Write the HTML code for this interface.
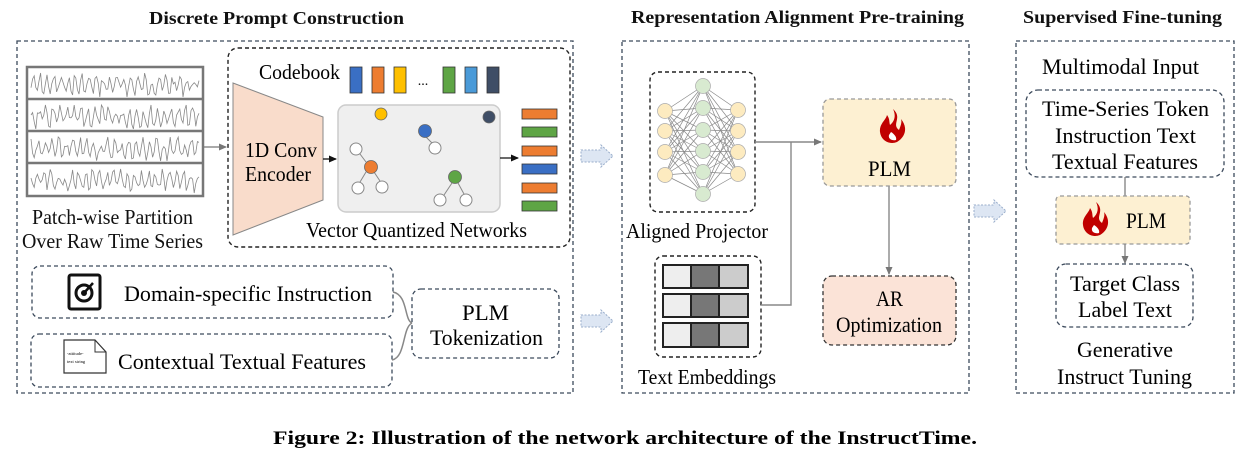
<!DOCTYPE html>
<html><head><meta charset="utf-8"><style>
html,body{margin:0;padding:0;background:#fff;}
svg{display:block;font-family:"Liberation Serif",serif;}
</style></head><body>
<svg id="s" width="1251" height="458" viewBox="0 0 1251 458" xmlns="http://www.w3.org/2000/svg">
<defs>
<marker id="ah" markerWidth="8" markerHeight="8" refX="7" refY="4" orient="auto" markerUnits="userSpaceOnUse"><path d="M0,0.5 L8,4 L0,7.5 Z" fill="#777"/></marker>
<marker id="ahk" markerWidth="8" markerHeight="8" refX="7" refY="4" orient="auto" markerUnits="userSpaceOnUse"><path d="M0,0.5 L8,4 L0,7.5 Z" fill="#111"/></marker>
<g id="flame"><path d="M0,-19 C10,-10 -2,-4 6,2 C8,-3 9,-6 8,-9 C14,-2 14,8 4,14 C-3,17 -12,13 -13,4 C-14,-4 -7,-8 -6,-13 C-3,-9 -4,-6 -3,-3 C2,-7 3,-13 0,-19 Z" fill="#c00000"/><path d="M-2,4 C1,6 4,9 3,12 C-1,13 -5,11 -4,7 Z" fill="#fff"/></g>
</defs>
<!-- titles -->
<g font-weight="bold" font-size="18" fill="#111" lengthAdjust="spacingAndGlyphs">
<text x="149" y="24" textLength="255" lengthAdjust="spacingAndGlyphs">Discrete Prompt Construction</text>
<text x="631" y="23" textLength="333" lengthAdjust="spacingAndGlyphs">Representation Alignment Pre-training</text>
<text x="1023" y="23" textLength="199" lengthAdjust="spacingAndGlyphs">Supervised Fine-tuning</text>
</g>
<!-- outer boxes -->
<g fill="none" stroke="#3c4a5c" stroke-width="1.3" stroke-dasharray="4,3">
<rect x="17" y="41" width="556" height="352"/>
<rect x="622" y="41" width="347" height="352"/>
<rect x="1016" y="41" width="218" height="352"/>
</g>
<!-- time series -->
<rect x="27" y="67" width="176" height="129" fill="#fff" stroke="#777" stroke-width="2.5"/>
<g stroke="#777" stroke-width="2.5"><line x1="27" y1="99" x2="203" y2="99"/><line x1="27" y1="131" x2="203" y2="131"/><line x1="27" y1="163" x2="203" y2="163"/></g>
<g id="waves" fill="none" stroke="#888" stroke-width="0.8"></g>
<line x1="203" y1="147" x2="226" y2="147" stroke="#777" stroke-width="1.3" marker-end="url(#ah)"/>
<g font-size="21" fill="#111">
<text x="32" y="224" textLength="161" lengthAdjust="spacingAndGlyphs">Patch-wise Partition</text>
<text x="22" y="248" textLength="181" lengthAdjust="spacingAndGlyphs">Over Raw Time Series</text>
</g>
<!-- VQ box -->
<rect x="228" y="48" width="342" height="199" rx="10" fill="none" stroke="#222" stroke-width="1.4" stroke-dasharray="4,3"/>
<polygon points="233,83 323,117 323,200 233,235" fill="#f9dccb" stroke="#888" stroke-width="1"/>
<g font-size="21">
<text x="245" y="157" textLength="72" lengthAdjust="spacingAndGlyphs">1D Conv</text>
<text x="245" y="181" textLength="66" lengthAdjust="spacingAndGlyphs">Encoder</text>
<text x="259" y="79" textLength="81" lengthAdjust="spacingAndGlyphs">Codebook</text>
</g>
<g stroke="#333" stroke-width="0.8">
<rect x="350" y="67" width="12" height="26" fill="#3a6fc4"/>
<rect x="372" y="67" width="12" height="26" fill="#ed7d31"/>
<rect x="394" y="67" width="12" height="26" fill="#ffc000"/>
<rect x="443" y="67" width="12" height="26" fill="#5ea545"/>
<rect x="465" y="67" width="12" height="26" fill="#4a9ad8"/>
<rect x="487" y="67" width="12" height="26" fill="#3f4e66"/>
</g>
<text x="423" y="85" font-size="14" text-anchor="middle">...</text>
<line x1="323" y1="159" x2="336" y2="159" stroke="#111" stroke-width="1.3" marker-end="url(#ahk)"/>
<rect x="338" y="105" width="162" height="107" rx="8" fill="#efefef" stroke="#ccc" stroke-width="1.5"/>
<g stroke="#888" stroke-width="1" fill="#fff">
<circle cx="356" cy="149" r="6"/><circle cx="358" cy="188" r="6"/><circle cx="382" cy="187" r="6"/>
<circle cx="435" cy="148" r="6"/><circle cx="440" cy="200" r="6"/><circle cx="466" cy="200" r="6"/>
</g>
<g stroke="#888" stroke-width="1" fill="none">
<line x1="360" y1="154" x2="366" y2="162"/><line x1="366" y1="172" x2="360" y2="182"/><line x1="374" y1="172" x2="380" y2="181"/>
<line x1="426" y1="137" x2="432" y2="143"/><line x1="452" y1="183" x2="444" y2="195"/><line x1="458" y1="183" x2="464" y2="194"/>
</g>
<g stroke="#666" stroke-width="0.8">
<circle cx="381" cy="114" r="6" fill="#ffc000"/><circle cx="489" cy="117" r="6" fill="#3f4e66"/>
<circle cx="425" cy="131" r="6.5" fill="#3a6fc4"/><circle cx="371" cy="167" r="6.5" fill="#ed7d31"/><circle cx="455" cy="177" r="6.5" fill="#5ea545"/>
</g>
<line x1="500" y1="158" x2="518" y2="158" stroke="#111" stroke-width="1.3" marker-end="url(#ahk)"/>
<g stroke="#333" stroke-width="0.8">
<rect x="522" y="109" width="35" height="10" fill="#ed7d31"/>
<rect x="522" y="127" width="35" height="10" fill="#5ea545"/>
<rect x="522" y="146" width="35" height="10" fill="#ed7d31"/>
<rect x="522" y="164" width="35" height="10" fill="#3a6fc4"/>
<rect x="522" y="183" width="35" height="10" fill="#ed7d31"/>
<rect x="522" y="201" width="35" height="10" fill="#5ea545"/>
</g>
<text x="306" y="237" font-size="21" textLength="221" lengthAdjust="spacingAndGlyphs">Vector Quantized Networks</text>
<!-- instruction boxes -->
<g fill="none" stroke="#3c4a5c" stroke-width="1.3" stroke-dasharray="4,3">
<rect x="32" y="266" width="361" height="52" rx="8"/>
<rect x="31" y="334" width="361" height="53" rx="8"/>
<rect x="412" y="289" width="147" height="69" rx="9"/>
</g>
<rect x="69" y="275" width="31" height="34" rx="2" fill="#fff" stroke="#111" stroke-width="3"/>
<circle cx="84" cy="293" r="8" fill="none" stroke="#111" stroke-width="3"/>
<circle cx="84" cy="293" r="3" fill="#111"/>
<line x1="84" y1="293" x2="93" y2="283" stroke="#111" stroke-width="2.5"/>
<text x="124" y="301" font-size="22" textLength="248" lengthAdjust="spacingAndGlyphs">Domain-specific Instruction</text>
<path d="M64,340 L95,340 L106,352 L106,373 L64,373 Z" fill="#fff" stroke="#333" stroke-width="1.2"/>
<path d="M95,340 L95,352 L106,352" fill="none" stroke="#333" stroke-width="1"/>
<text x="67" y="355" font-size="4.5">-attitude-</text>
<text x="67" y="363" font-size="4.5">text string</text>
<text x="118" y="369" font-size="22" textLength="248" lengthAdjust="spacingAndGlyphs">Contextual Textual Features</text>
<path d="M393,292 C408,295 404,320 412,323" fill="none" stroke="#888" stroke-width="1.5"/>
<path d="M392,360 C406,357 402,328 412,323" fill="none" stroke="#888" stroke-width="1.5"/>
<text x="462" y="320" font-size="22" textLength="47" lengthAdjust="spacingAndGlyphs">PLM</text>
<text x="430" y="345" font-size="22" textLength="113" lengthAdjust="spacingAndGlyphs">Tokenization</text>
<!-- hollow arrows -->
<g fill="#dde6f3" stroke="#9aaecb" stroke-width="1" stroke-dasharray="2,1.5">
<path d="M581,150 L601,150 L601,145 L613,156 L601,167 L601,162 L581,162 Z"/>
<path d="M581,315 L601,315 L601,310 L613,321 L601,332 L601,327 L581,327 Z"/>
<path d="M974,205 L994,205 L994,200 L1006,211 L994,222 L994,217 L974,217 Z"/>
</g>
<!-- projector -->
<rect x="650" y="72" width="105" height="140" rx="8" fill="none" stroke="#222" stroke-width="1.4" stroke-dasharray="4,3"/>
<g id="nn" stroke="#888" stroke-width="0.7"></g>
<text x="626" y="238" font-size="21" textLength="142" lengthAdjust="spacingAndGlyphs">Aligned Projector</text>
<rect x="655" y="256" width="106" height="101" rx="8" fill="none" stroke="#222" stroke-width="1.4" stroke-dasharray="4,3"/>
<g stroke="#222" stroke-width="2">
<rect x="663" y="265" width="28" height="23" fill="#eee"/><rect x="691" y="265" width="28" height="23" fill="#777"/><rect x="719" y="265" width="29" height="23" fill="#ccc"/>
<rect x="663" y="294" width="28" height="23" fill="#eee"/><rect x="691" y="294" width="28" height="23" fill="#777"/><rect x="719" y="294" width="29" height="23" fill="#ccc"/>
<rect x="663" y="323" width="28" height="24" fill="#eee"/><rect x="691" y="323" width="28" height="24" fill="#777"/><rect x="719" y="323" width="29" height="24" fill="#ccc"/>
</g>
<text x="638" y="384" font-size="21" textLength="138" lengthAdjust="spacingAndGlyphs">Text Embeddings</text>
<g stroke="#888" stroke-width="1.4" fill="none">
<line x1="755" y1="142" x2="821" y2="142" marker-end="url(#ah)"/>
<polyline points="761,305 791,305 791,142"/>
<line x1="889" y1="186" x2="889" y2="274" marker-end="url(#ah)"/>
</g>
<rect x="823" y="99" width="133" height="87" rx="7" fill="#fdf0d2" stroke="#999" stroke-width="1.3" stroke-dasharray="4,3"/>
<use href="#flame" x="893" y="128"/>
<text x="868" y="176" font-size="22" textLength="43" lengthAdjust="spacingAndGlyphs">PLM</text>
<rect x="823" y="276" width="133" height="69" rx="9" fill="#fbe3d7" stroke="#333" stroke-width="1.3" stroke-dasharray="4,3"/>
<text x="876" y="306" font-size="22" textLength="27" lengthAdjust="spacingAndGlyphs">AR</text>
<text x="836" y="332" font-size="22" textLength="106" lengthAdjust="spacingAndGlyphs">Optimization</text>
<!-- supervised -->
<text x="1042" y="74" font-size="22" textLength="157" lengthAdjust="spacingAndGlyphs">Multimodal Input</text>
<rect x="1026" y="90" width="198" height="87" rx="12" fill="none" stroke="#3c4a5c" stroke-width="1.3" stroke-dasharray="4,3"/>
<g font-size="22">
<text x="1042" y="116" textLength="167" lengthAdjust="spacingAndGlyphs">Time-Series Token</text>
<text x="1055" y="143" textLength="141" lengthAdjust="spacingAndGlyphs">Instruction Text</text>
<text x="1052" y="169" textLength="146" lengthAdjust="spacingAndGlyphs">Textual Features</text>
</g>
<line x1="1125" y1="177" x2="1125" y2="196" stroke="#888" stroke-width="1.4"/>
<rect x="1056" y="196" width="134" height="48" rx="4" fill="#fdf0d2" stroke="#999" stroke-width="1.3" stroke-dasharray="4,3"/>
<use href="#flame" x="1096" y="221"/>
<text x="1126" y="228" font-size="22" textLength="40" lengthAdjust="spacingAndGlyphs">PLM</text>
<line x1="1125" y1="244" x2="1125" y2="263" stroke="#888" stroke-width="1.4" marker-end="url(#ah)"/>
<rect x="1056" y="264" width="137" height="63" rx="10" fill="none" stroke="#3c4a5c" stroke-width="1.3" stroke-dasharray="4,3"/>
<g font-size="22">
<text x="1070" y="291" textLength="110" lengthAdjust="spacingAndGlyphs">Target Class</text>
<text x="1078" y="317" textLength="94" lengthAdjust="spacingAndGlyphs">Label Text</text>
<text x="1077" y="357" textLength="96" lengthAdjust="spacingAndGlyphs">Generative</text>
<text x="1057" y="384" textLength="135" lengthAdjust="spacingAndGlyphs">Instruct Tuning</text>
</g>
<text x="273" y="444" font-size="19" font-weight="bold" textLength="704" lengthAdjust="spacingAndGlyphs">Figure 2: Illustration of the network architecture of the InstructTime.</text>
</svg>
<script>
(function(){
var ns="http://www.w3.org/2000/svg";
var w=document.getElementById("waves");
var seed=7;function r(){seed=(seed*9301+49297)%233280;return seed/233280;}
var rows=[70,102,134,166];
for(var i=0;i<4;i++){var top=rows[i]+3,h=24,pts=[];
 for(var x=31;x<=199;x+=1.6){var y=top+h/2+Math.sin(x*0.9+i)*h*0.32+(r()-0.5)*h*0.5;pts.push(x.toFixed(1)+","+Math.max(top,Math.min(top+h,y)).toFixed(1));}
 var p=document.createElementNS(ns,"polyline");p.setAttribute("points",pts.join(" "));w.appendChild(p);}
var nn=document.getElementById("nn");
var L=[111,131,152,175].map(function(y){return[665,y]});
var M=[86,108,130,151,172,194].map(function(y){return[703,y]});
var R=[110,131,152,174].map(function(y){return[738,y]});
function ln(a,b){var l=document.createElementNS(ns,"line");l.setAttribute("x1",a[0]);l.setAttribute("y1",a[1]);l.setAttribute("x2",b[0]);l.setAttribute("y2",b[1]);nn.appendChild(l);}
L.forEach(function(a){M.forEach(function(b){ln(a,b)})});
M.forEach(function(a){R.forEach(function(b){ln(a,b)})});
function c(p,f){var e=document.createElementNS(ns,"circle");e.setAttribute("cx",p[0]);e.setAttribute("cy",p[1]);e.setAttribute("r",7.5);e.setAttribute("fill",f);e.setAttribute("stroke","#aaa");nn.appendChild(e);}
L.forEach(function(p){c(p,"#fdebc0")});M.forEach(function(p){c(p,"#d8ead0")});R.forEach(function(p){c(p,"#fdebc0")});
})();
</script>
</body></html>
